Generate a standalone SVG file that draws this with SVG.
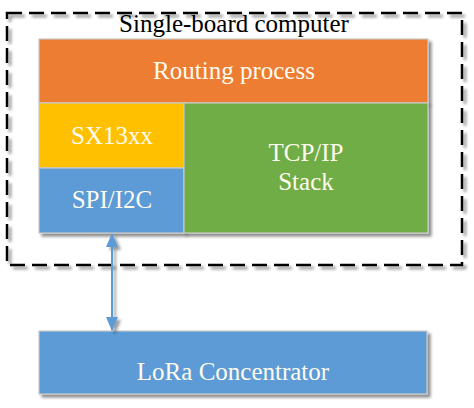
<svg xmlns="http://www.w3.org/2000/svg" width="474" height="408" viewBox="0 0 474 408">
<defs>
<filter id="sh" x="-10%" y="-10%" width="130%" height="140%">
<feGaussianBlur in="SourceAlpha" stdDeviation="1.5"/>
<feOffset dx="3" dy="3" result="b"/>
<feComponentTransfer><feFuncA type="linear" slope="0.45"/></feComponentTransfer>
<feMerge><feMergeNode/><feMergeNode in="SourceGraphic"/></feMerge>
</filter>
<filter id="sha" filterUnits="userSpaceOnUse" x="90" y="220" width="50" height="125">
<feGaussianBlur in="SourceAlpha" stdDeviation="1.5"/>
<feOffset dx="3" dy="3" result="b"/>
<feComponentTransfer><feFuncA type="linear" slope="0.4"/></feComponentTransfer>
<feMerge><feMergeNode/><feMergeNode in="SourceGraphic"/></feMerge>
</filter>
<marker id="ah" viewBox="0 0 14 12" refX="13" refY="6" markerWidth="14" markerHeight="12" markerUnits="userSpaceOnUse" orient="auto-start-reverse">
<path d="M0,0 L14,6 L0,12 z" fill="#5B9BD5"/>
</marker>
</defs>
<style>
.box{stroke:#C9C9C9;stroke-width:1.2;filter:url(#sh)}
text{font-family:"Liberation Serif","Times New Roman",serif;font-size:25px;text-anchor:middle}
.t{fill:#FFFBEF}
.title{fill:#000}
</style>
<rect x="7" y="13" width="455" height="252" fill="none" stroke="#000" stroke-width="2.5" stroke-dasharray="15 7" filter="url(#sh)"/>
<text class="title" x="234" y="32">Single-board computer</text>
<g id="routing"><rect class="box" x="39" y="39" width="389" height="64" fill="#ED7D31"/><text class="t" x="234" y="79">Routing process</text></g>
<g id="sx13xx"><rect class="box" x="39" y="103" width="145" height="65" fill="#FFC000"/><text class="t" x="112" y="144">SX13xx</text></g>
<g id="spi"><rect class="box" x="39" y="168" width="145" height="65" fill="#5B9BD5"/><text class="t" x="112" y="208">SPI/I2C</text></g>
<g id="tcpip"><rect class="box" x="184" y="103" width="244" height="130" fill="#70AD47"/><text class="t" x="306" y="161">TCP/IP</text><text class="t" x="306" y="190">Stack</text></g>
<g id="lora"><rect class="box" x="39" y="331" width="388" height="63" fill="#5B9BD5"/><text class="t" x="233" y="380">LoRa Concentrator</text></g>
<g id="connectors"><line x1="112" y1="234" x2="112" y2="330" stroke="#5B9BD5" stroke-width="2" marker-start="url(#ah)" marker-end="url(#ah)" filter="url(#sha)"/></g>
</svg>
